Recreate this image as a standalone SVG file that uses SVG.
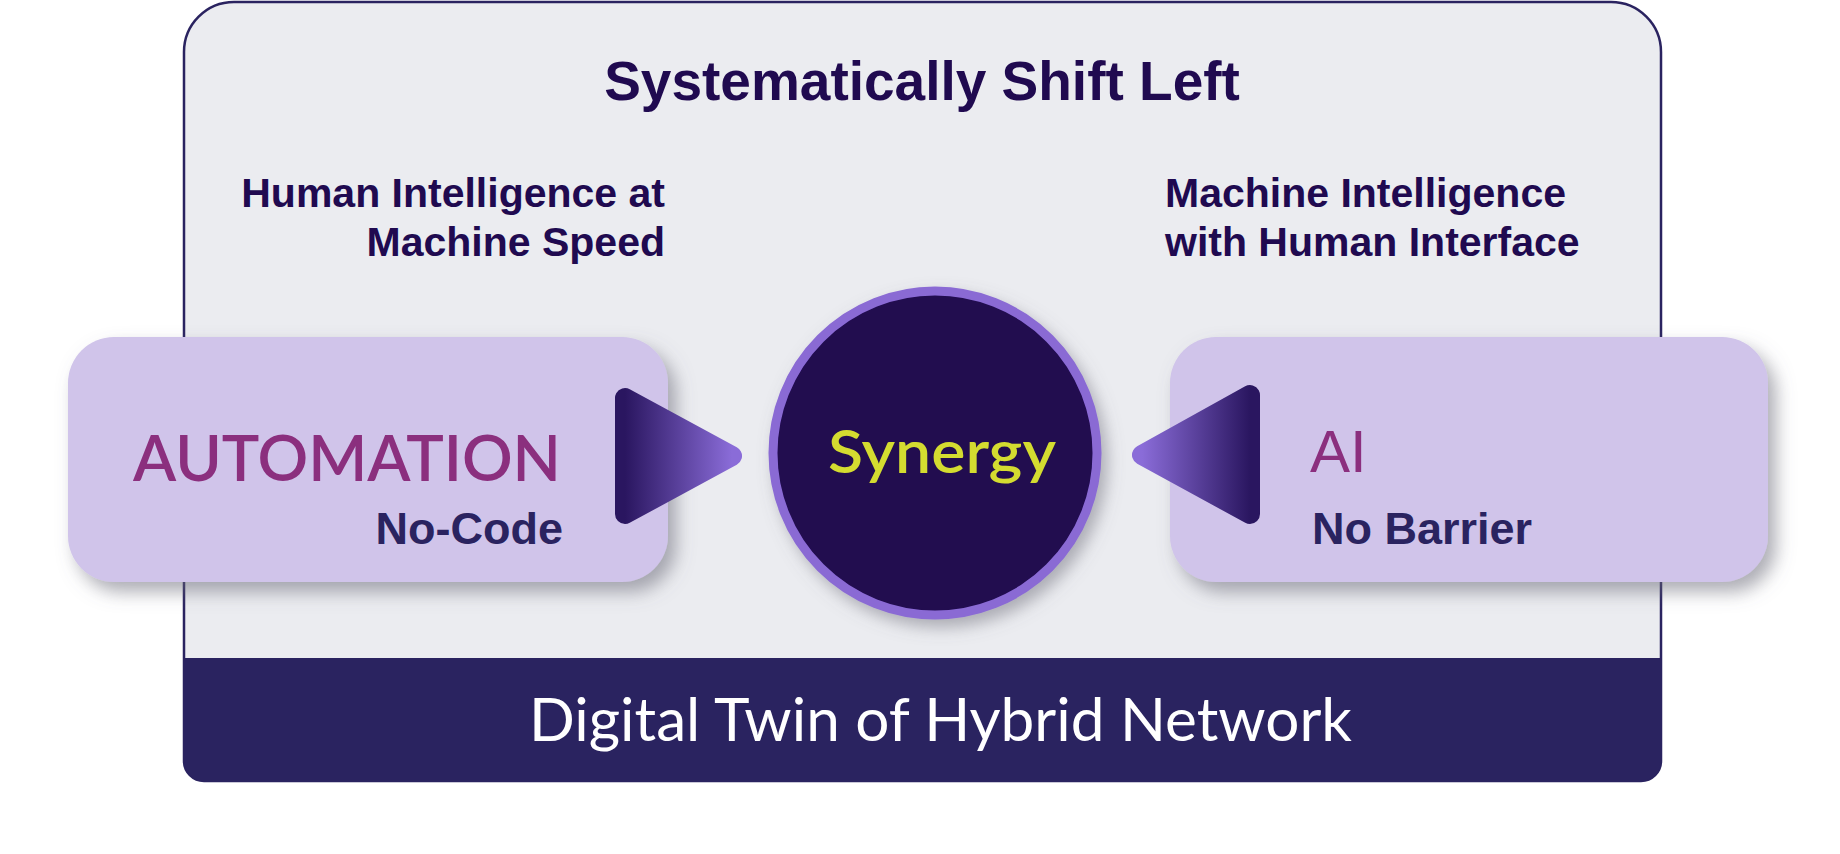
<svg xmlns="http://www.w3.org/2000/svg" width="1840" height="854" viewBox="0 0 1840 854">
<style>
.h{font-family:"Liberation Sans",Arial,sans-serif;font-weight:bold;fill:#200a50}
.sub{font-family:"Liberation Sans",Arial,sans-serif;font-weight:bold;font-size:45px;fill:#2a2360}
.geo{font-family:Lato,"Noto Sans",sans-serif}
.med{font-weight:600}
.node{fill:#d0c4ea}
</style>
<defs>
<filter id="sh" x="-20%" y="-20%" width="140%" height="150%">
<feDropShadow dx="8" dy="10" stdDeviation="9" flood-color="#6b6b78" flood-opacity="0.55"/>
</filter>
<filter id="shc" x="-20%" y="-20%" width="140%" height="140%">
<feDropShadow dx="6" dy="8" stdDeviation="8" flood-color="#6b6b78" flood-opacity="0.5"/>
</filter>
<linearGradient id="gl" x1="0" y1="0" x2="1" y2="0">
<stop offset="0" stop-color="#2a1660"/>
<stop offset="1" stop-color="#8a6cd8"/>
</linearGradient>
<linearGradient id="gr" x1="1" y1="0" x2="0" y2="0">
<stop offset="0" stop-color="#2a1660"/>
<stop offset="1" stop-color="#8a6cd8"/>
</linearGradient>
</defs>
<rect width="1840" height="854" fill="#ffffff"/>
<g id="panel">
<path d="M184,52 A50,50 0 0 1 234,2 H1611 A50,50 0 0 1 1661,52 V761 A20,20 0 0 1 1641,781 H204 A20,20 0 0 1 184,761 Z" fill="#ebecf0" stroke="#2a2360" stroke-width="2.5"/>
<text class="h" x="922" y="100" font-size="55" text-anchor="middle">Systematically Shift Left</text>
</g>
<g id="label-left">
<text class="h" font-size="41" text-anchor="end" x="665" y="207">Human Intelligence at</text>
<text class="h" font-size="41" text-anchor="end" x="665" y="256">Machine Speed</text>
</g>
<g id="label-right">
<text class="h" font-size="41" x="1165" y="207">Machine Intelligence</text>
<text class="h" font-size="41" x="1165" y="256">with Human Interface</text>
</g>
<g id="band">
<path d="M184,658 H1661 V761 A20,20 0 0 1 1641,781 H204 A20,20 0 0 1 184,761 Z" fill="#2a2360"/>
<text class="geo" x="529" y="741" font-size="60" fill="#ffffff" textLength="823" lengthAdjust="spacingAndGlyphs">Digital Twin of Hybrid Network</text>
</g>
<g id="node-automation">
<rect class="node" x="68" y="337" width="600" height="245" rx="46" filter="url(#sh)"/>
<text class="geo med" x="133" y="481" font-size="64" fill="#8b2f7e" textLength="428" lengthAdjust="spacingAndGlyphs">AUTOMATION</text>
<text class="sub" x="563" y="544" text-anchor="end">No-Code</text>
</g>
<g id="node-ai">
<rect class="node" x="1170" y="337" width="598" height="245" rx="46" filter="url(#sh)"/>
<text x="1310" y="472" font-family="Liberation Sans,Arial,sans-serif" font-size="60" fill="#8b2f7e">AI</text>
<text class="sub" x="1312" y="544">No Barrier</text>
</g>
<g id="node-synergy">
<circle cx="935" cy="453" r="162" fill="#200b4f" stroke="#8a6ad4" stroke-width="9" filter="url(#shc)"/>
<text class="geo med" x="828" y="473" font-size="60" fill="#d4dc30" textLength="228" lengthAdjust="spacingAndGlyphs">Synergy</text>
</g>
<g id="connectors">
<polygon points="625,398 625,514 732,456" fill="url(#gl)" stroke="url(#gl)" stroke-width="20" stroke-linejoin="round"/>
<polygon points="1250,395 1250,514 1142,455" fill="url(#gr)" stroke="url(#gr)" stroke-width="20" stroke-linejoin="round"/>
</g>
</svg>
